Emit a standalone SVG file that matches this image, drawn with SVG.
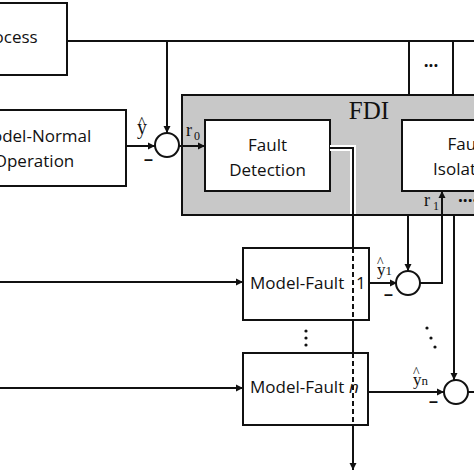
<svg xmlns="http://www.w3.org/2000/svg" width="474" height="474" viewBox="0 0 474 474">
<defs>
<marker id="arr" markerUnits="userSpaceOnUse" markerWidth="8" markerHeight="8" refX="7" refY="4" orient="auto">
<path d="M0,0.5 L7,4 L0,7.5 z" fill="#111"/>
</marker>
<style>
.box{fill:#fff;stroke:#111;stroke-width:2}
.ln{fill:none;stroke:#111;stroke-width:2}
.sum{fill:#fff;stroke:#111;stroke-width:2}
.t{font-family:"Open Sans","Noto Sans",sans-serif;font-size:17px;fill:#111}
.s{font-family:"Liberation Serif",serif;fill:#111}
.m{font-family:"Liberation Sans",sans-serif;font-weight:bold;font-size:16px;fill:#111}
.dot{fill:#111}
</style>
</defs>
<rect width="474" height="474" fill="#fff"/>

<g id="process">
<rect class="box" x="-40" y="3" width="107" height="72"/>
<text class="t" x="7" y="43" text-anchor="middle">Process</text>
</g>

<g id="model-normal">
<rect class="box" x="-60" y="110" width="186" height="76"/>
<text class="t" x="34" y="142" text-anchor="middle">Model-Normal</text>
<text class="t" x="34" y="167" text-anchor="middle">Operation</text>
</g>

<g id="fdi">
<rect x="182" y="95" width="300" height="120" fill="#c8c8c8" stroke="#111" stroke-width="2"/>
<text class="s" x="369" y="119" font-size="25" text-anchor="middle">FDI</text>
</g>

<g id="fault-detection">
<rect class="box" x="205" y="120" width="125" height="71"/>
<text class="t" x="267.5" y="151" text-anchor="middle">Fault</text>
<text class="t" x="267.5" y="176" text-anchor="middle">Detection</text>
</g>

<g id="fault-isolation">
<rect class="box" x="402" y="120" width="80" height="71"/>
<text class="t" x="467" y="150" text-anchor="middle">Fault</text>
<text class="t" x="467" y="175" text-anchor="middle">Isolation</text>
</g>

<g id="model-fault-1">
<rect class="box" x="243" y="248" width="126" height="72"/>
<text class="t" x="250" y="289">Model-Fault<tspan x="356">1</tspan></text>
</g>

<g id="model-fault-n">
<rect class="box" x="243" y="353" width="125" height="72"/>
<text class="t" x="250" y="393">Model-Fault<tspan x="349" font-style="italic">n</tspan></text>
</g>

<g id="connectors">
<line class="ln" x1="67" y1="41" x2="474" y2="41"/>
<line class="ln" x1="167" y1="41" x2="167" y2="133" marker-end="url(#arr)"/>
<line class="ln" x1="409" y1="41" x2="409" y2="95"/>
<line class="ln" x1="453" y1="41" x2="453" y2="95"/>
<line class="ln" x1="126" y1="146" x2="155" y2="146" marker-end="url(#arr)"/>
<line class="ln" x1="179" y1="146" x2="205" y2="146" marker-end="url(#arr)"/>
<path d="M330,148 H353 V214" fill="none" stroke="#fff" stroke-width="6"/>
<path class="ln" d="M330,148 H353 V248"/>
<line x1="353" y1="248" x2="353" y2="320" stroke="#111" stroke-width="2" stroke-dasharray="5 3"/>
<line class="ln" x1="353" y1="320" x2="353" y2="353"/>
<line x1="353" y1="353" x2="353" y2="425" stroke="#111" stroke-width="2" stroke-dasharray="5 3"/>
<line class="ln" x1="353" y1="425" x2="353" y2="470" marker-end="url(#arr)"/>
<line class="ln" x1="0" y1="282" x2="243" y2="282" marker-end="url(#arr)"/>
<line class="ln" x1="0" y1="388" x2="243" y2="388" marker-end="url(#arr)"/>
<line class="ln" x1="369" y1="283" x2="397" y2="283" marker-end="url(#arr)"/>
<line class="ln" x1="408" y1="215" x2="408" y2="271" marker-end="url(#arr)"/>
<path class="ln" d="M420,283 H442 V191" marker-end="url(#arr)"/>
<line class="ln" x1="368" y1="392" x2="444" y2="392" marker-end="url(#arr)"/>
<line class="ln" x1="454" y1="215" x2="454" y2="380" marker-end="url(#arr)"/>
<line class="ln" x1="467" y1="392" x2="474" y2="392"/>
</g>

<g id="sum-0">
<circle class="sum" cx="167" cy="145" r="12"/>
</g>
<g id="sum-1">
<circle class="sum" cx="408" cy="283" r="12"/>
</g>
<g id="sum-n">
<circle class="sum" cx="456" cy="392" r="12"/>
</g>

<g id="labels">
<text class="s" x="137" y="134" font-size="20">y<tspan x="138" y="128" font-size="16">^</tspan></text>
<text class="m" x="144" y="165">–</text>
<text class="s" x="186" y="136" font-size="18">r<tspan x="194" y="140" font-size="12">0</tspan></text>
<text class="s" x="424" y="206" font-size="18">r<tspan x="433" y="210" font-size="12">1</tspan></text>
<text class="s" x="377" y="275" font-size="17">y<tspan font-size="13">1</tspan><tspan x="377" y="267" font-size="14">^</tspan></text>
<text class="m" x="384" y="300">–</text>
<text class="s" x="413" y="385" font-size="17">y<tspan font-size="13">n</tspan><tspan x="413" y="377" font-size="14">^</tspan></text>
<text class="m" x="429" y="407">–</text>
<text class="t" x="431" y="67" text-anchor="middle" font-weight="bold">...</text>
<text class="t" x="458" y="202" font-weight="bold">....</text>
</g>

<g id="ellipses">
<circle class="dot" cx="306" cy="331" r="1.6"/>
<circle class="dot" cx="306" cy="338" r="1.6"/>
<circle class="dot" cx="306" cy="345" r="1.6"/>
<circle class="dot" cx="427" cy="328" r="1.6"/>
<circle class="dot" cx="431" cy="338" r="1.6"/>
<circle class="dot" cx="435" cy="347" r="1.6"/>
</g>
</svg>
